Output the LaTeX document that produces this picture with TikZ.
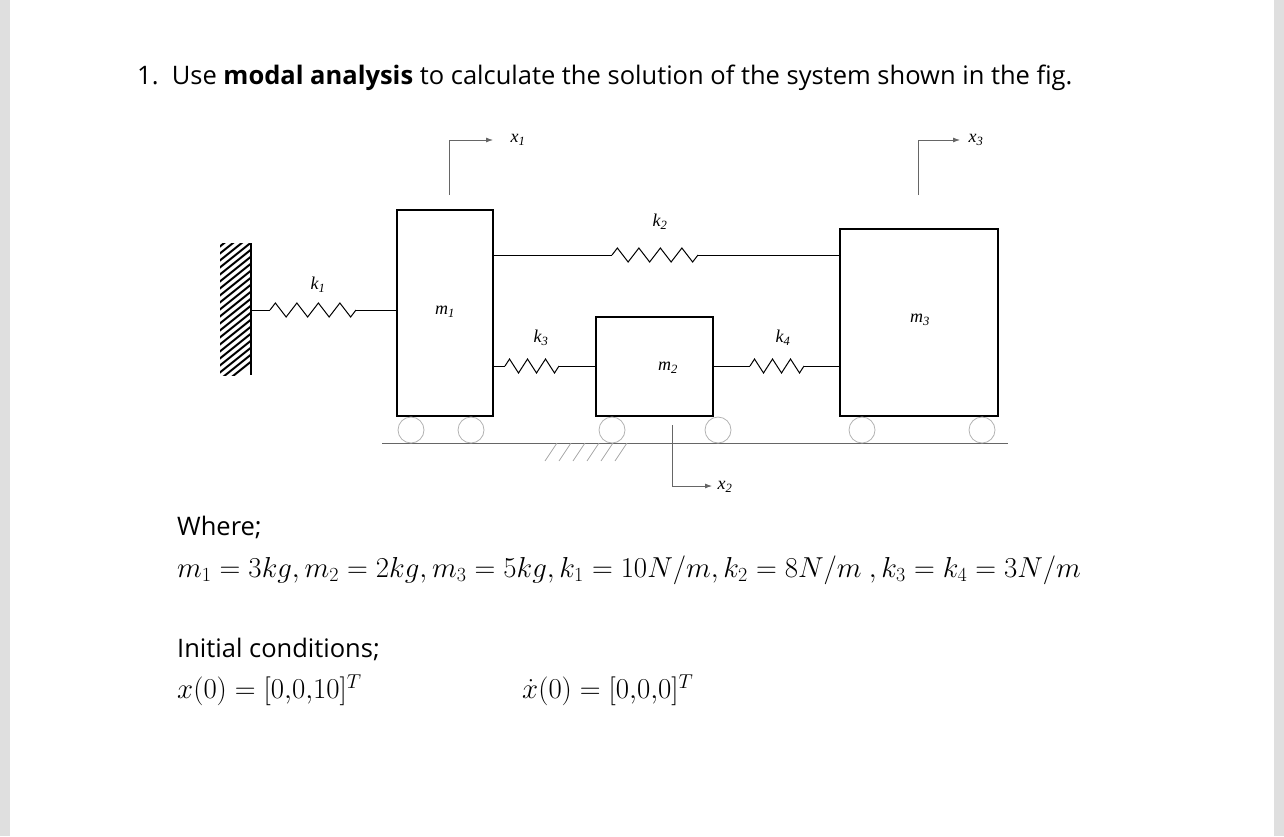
\documentclass[tikz,border=0pt]{standalone}
\usepackage{fontspec}
\setmainfont{Open Sans}
\newfontfamily\tms{Liberation Serif}
\usepackage{amsmath}
\usetikzlibrary{decorations.pathmorphing,arrows.meta}
\begin{document}
\begin{tikzpicture}[x=1pt,y=-1pt,
  mass/.style={draw,line width=1.6pt},
  wheel/.style={draw=gray!60,line width=0.8pt},
  spr/.style={line width=1pt,decorate,decoration={zigzag,segment length=21.5,amplitude=7}},
  lnk/.style={line width=1pt},
  lbl/.style={font=\tms\itshape\fontsize{18}{18}\selectfont},
  dispar/.style={draw=gray!80!black,line width=0.8pt,-{Latex[length=7pt,width=5pt]}},
  txt/.style={anchor=west,inner sep=0pt,font=\fontsize{25.5}{28}\selectfont},
  mth/.style={anchor=west,inner sep=0pt,scale=1.16,font=\fontsize{24}{26}\selectfont}]
\useasboundingbox (0,0) rectangle (1284,836);
\fill[gray!25] (0,0) rectangle (10,836);
\fill[gray!25] (1274,0) rectangle (1284,836);
\node[txt] (title) at (137,78) {1.\ \ Use \textbf{modal analysis} to calculate the solution of the system shown in the fig.};
% wall
\begin{scope}
\clip (220,243) rectangle (251,375);
\foreach \y in {236,243,...,380} \draw[line width=2pt] (218,\y+12) -- (253,\y-16);
\end{scope}
\draw[line width=1.6pt] (251,243) -- (251,375);
% masses
\draw[mass] (397,210) rectangle (493,416);
\draw[mass] (596,317) rectangle (713,416);
\draw[mass] (840,229) rectangle (998,416);
\node[lbl] (m1) at (445,312) {m\textsubscript{1}};
\node[lbl] (m2) at (668,368) {m\textsubscript{2}};
\node[lbl] (m3) at (920,320) {m\textsubscript{3}};
% springs
\draw[lnk] (251,310) -- (270,310);
\draw[spr] (270,310) -- (356,310);
\draw[lnk] (356,310) -- (397,310);
\node[lbl] (k1) at (318,285) {k\textsubscript{1}};
\draw[lnk] (493,255) -- (612,255);
\draw[spr] (612,255) -- (698,255);
\draw[lnk] (698,255) -- (840,255);
\node[lbl] (k2) at (660,222) {k\textsubscript{2}};
\draw[lnk] (493,366) -- (505,366);
\draw[spr,decoration={segment length=18,amplitude=7}] (505,366) -- (559,366);
\draw[lnk] (559,366) -- (596,366);
\node[lbl] (k3) at (541,338) {k\textsubscript{3}};
\draw[lnk] (713,366) -- (750,366);
\draw[spr,decoration={segment length=18,amplitude=7}] (750,366) -- (804,366);
\draw[lnk] (804,366) -- (840,366);
\node[lbl] (k4) at (783,338) {k\textsubscript{4}};
% ground
\draw[gray!80!black,line width=0.8pt] (382,443) -- (1008,443);
\foreach \x in {545,559,...,615} \draw[gray!70,line width=0.8pt] (\x,461) -- (\x+12,443);
\foreach \x in {411,471,612,718,862,982} \draw[wheel] (\x,430) circle (13);
% displacement arrows
\draw[dispar] (449,195) -- (449,140) -- (493,140);
\node[lbl] (x1) at (518,140) {x\textsubscript{1}};
\draw[dispar] (918,195) -- (918,140) -- (960,140);
\node[lbl] (x3) at (976,140) {x\textsubscript{3}};
\draw[dispar] (672,425) -- (672,486) -- (712,486);
\node[lbl] (x2) at (725,487) {x\textsubscript{2}};
% text
\node[txt] (where) at (177,527) {Where;};
\node[mth] (eq) at (177,570) {$m_1=3kg,m_2=2kg,m_3=5kg,k_1=10N/m,k_2=8N/m\ ,k_3=k_4=3N/m$};
\node[txt] (ic) at (177,649) {Initial conditions;};
\node[mth] (x0) at (177,690) {$x(0)=[0{,}0{,}10]^T$};
\node[mth] (xd0) at (522,690) {$\dot{x}(0)=[0{,}0{,}0]^T$};
\end{tikzpicture}
\end{document}
